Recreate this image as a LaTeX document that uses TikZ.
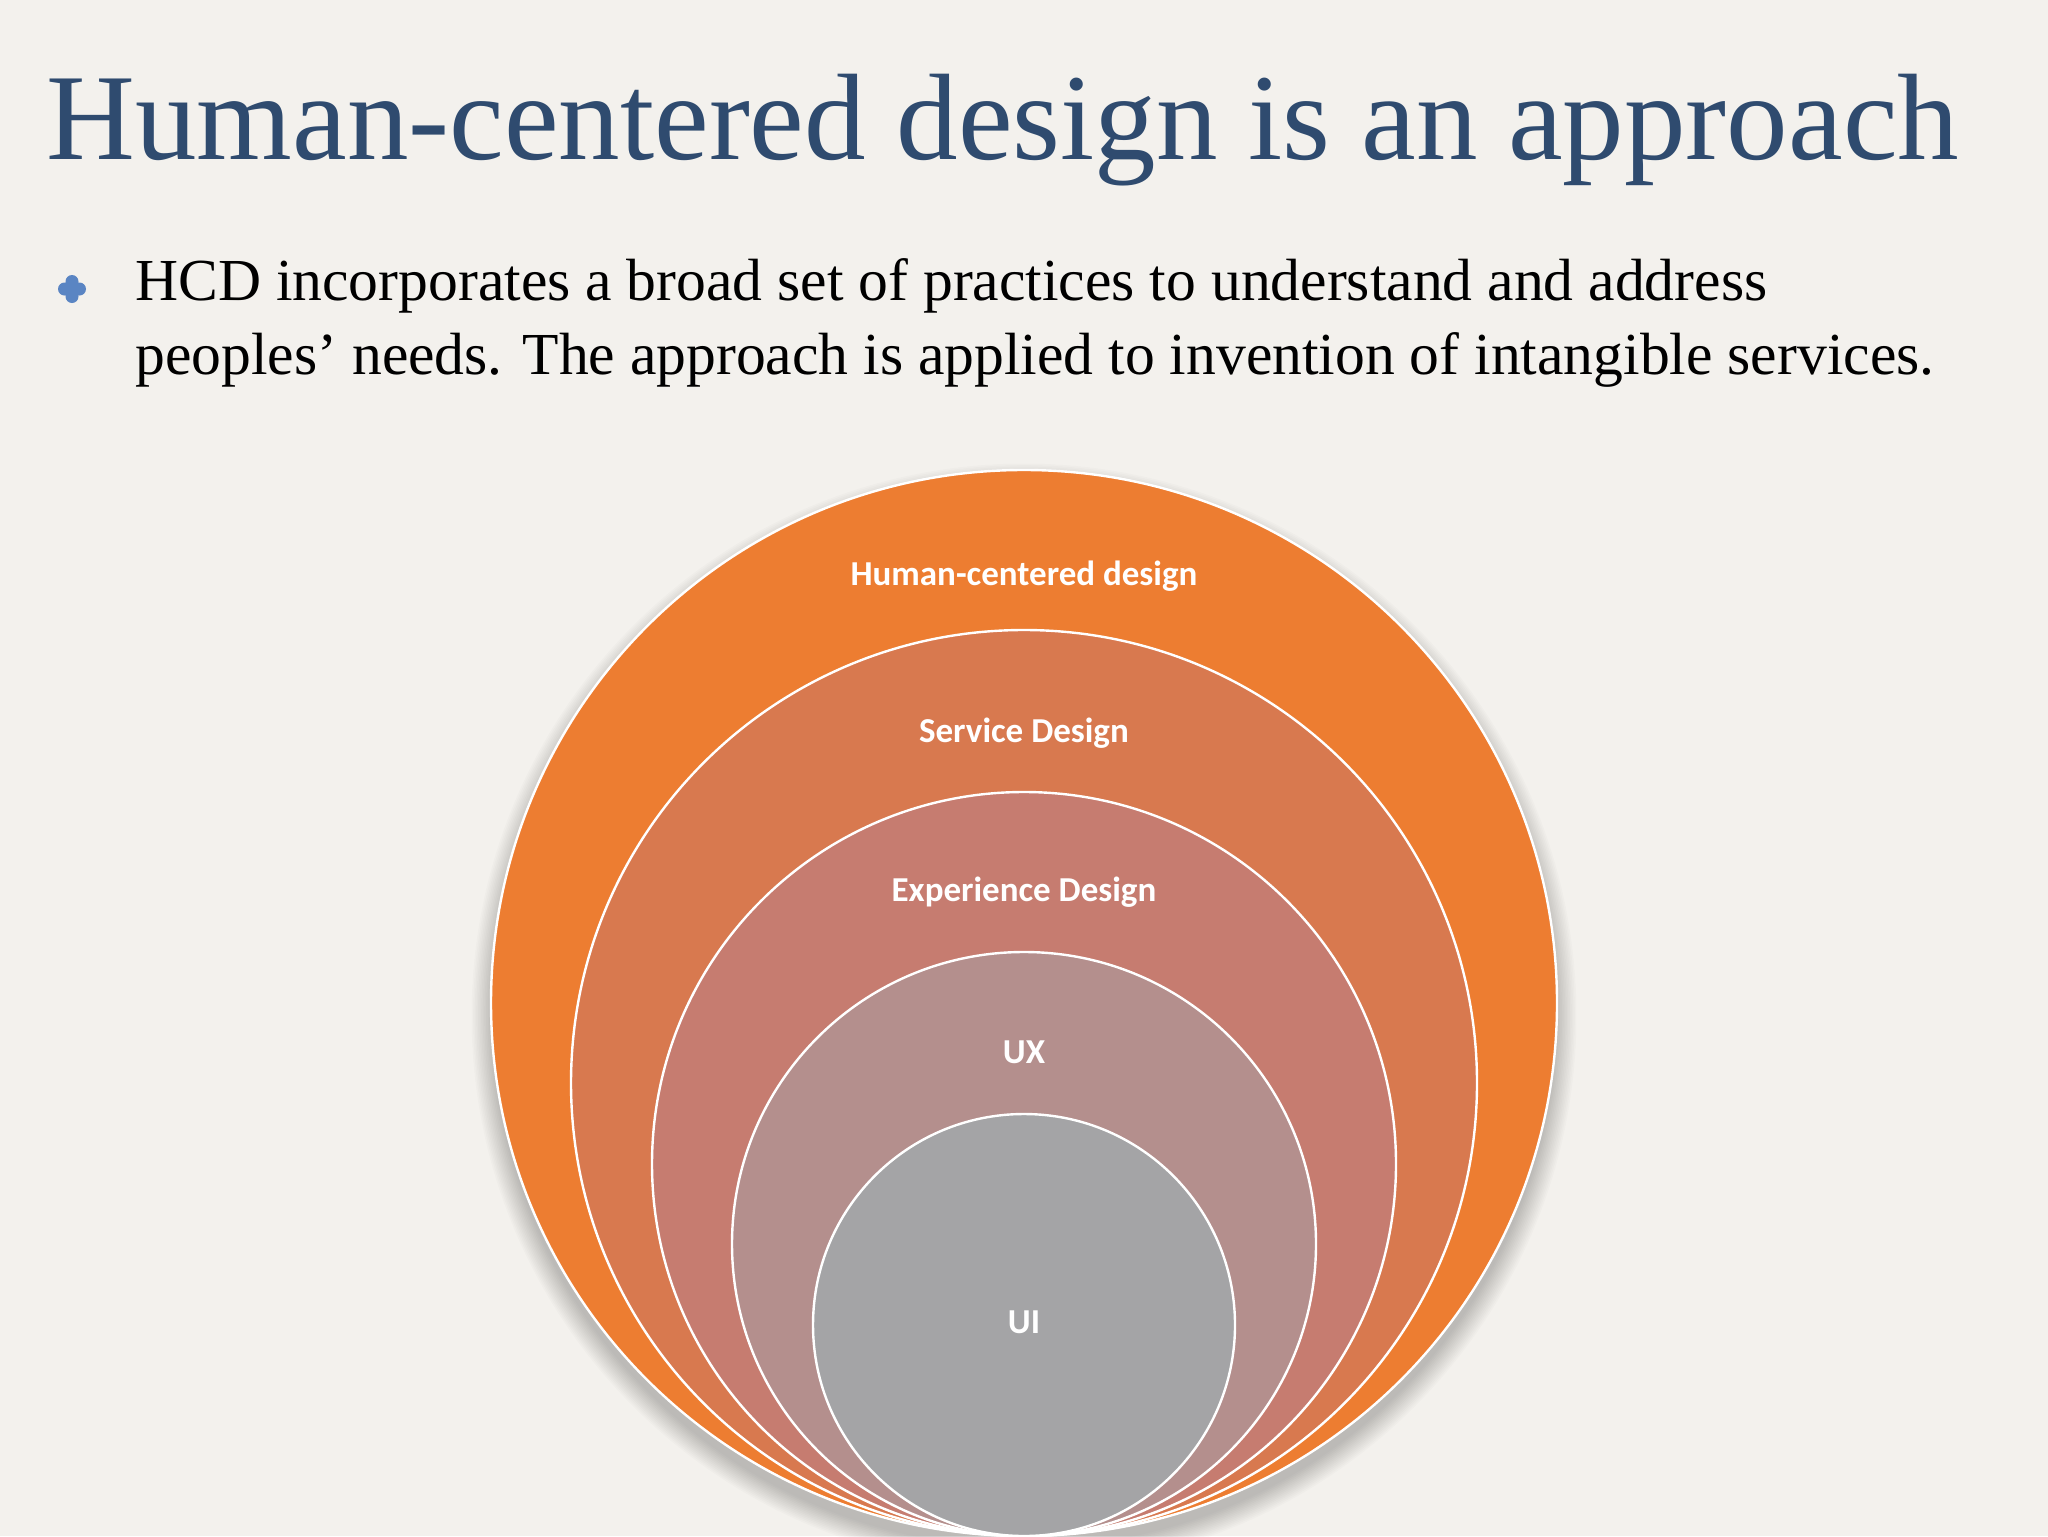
\documentclass[tikz,border=0pt]{standalone}
\usepackage{fontspec}
\setmainfont{Liberation Serif}
\newfontfamily\labelfont{Carlito}
\usetikzlibrary{positioning}

\definecolor{paper}{HTML}{F3F1ED}
\definecolor{titleblue}{HTML}{2F4B6F}
\definecolor{bulletblue}{HTML}{5A85C3}
\definecolor{hcdorange}{HTML}{ED7D31}
\definecolor{serviceorange}{HTML}{D8794F}
\definecolor{experiencerose}{HTML}{C67C70}
\definecolor{uxmauve}{HTML}{B48F8D}
\definecolor{uigray}{HTML}{A4A4A6}

\tikzset{
  ring/.style={circle, draw=white, line width=1.2pt, inner sep=0pt, outer sep=0pt},
  ringlabel/.style={text=white, font=\labelfont\bfseries\fontsize{17.5}{20}\selectfont, inner sep=0pt, anchor=base},
  bodytext/.style={font=\fontsize{29.8}{37}\selectfont, inner sep=0pt, anchor=base west},
}

\begin{document}
\begin{tikzpicture}[x=0.5pt,y=-0.5pt]
	\useasboundingbox (0,0) rectangle (2048,1536);
	\clip (0,0) rectangle (2048,1536);
	\fill[paper] (0,0) rectangle (2048,1536);
	
	%TITLE
	\node[titleblue, font=\fontsize{61.5}{70}\selectfont, inner sep=0pt, anchor=base west] (title) at (46,159) {Human-centered design is an approach};
	
	%BULLET
	\fill[bulletblue] (72,289) circle[radius=3]
		(72,281.5) circle[radius=6.5] (72,296.5) circle[radius=6.5]
		(64.5,289) circle[radius=6.5] (79.5,289) circle[radius=6.5];
	\node[bodytext] (line1) at (135,300) {HCD incorporates a broad set of practices to understand and address};
	\node[bodytext] (line2) at (135,374) {peoples' needs. The approach is applied to invention of intangible services.};
	
	%SHADOW
	\foreach \i in {1,...,14}
		\fill[black, opacity=0.016] (1024,1016) circle[radius=530+1.6*\i];
	
	%CIRCLES
	\node[ring, fill=hcdorange, minimum size=533pt] (hcd) at (1024,1003) {};
	\node[ring, fill=serviceorange, minimum size=453pt] (service) at (1024,1083) {};
	\node[ring, fill=experiencerose, minimum size=372pt] (experience) at (1024,1164) {};
	\node[ring, fill=uxmauve, minimum size=292pt] (ux) at (1024,1244) {};
	\node[ring, fill=uigray, minimum size=211pt] (ui) at (1024,1325) {};
	
	%LABELS
	\node[ringlabel] (hcdlabel) at ([yshift=-57.5pt]hcd.north) {Human-centered design};
	\node[ringlabel] (servicelabel) at ([yshift=-56pt]service.north) {Service Design};
	\node[ringlabel] (experiencelabel) at ([yshift=-54.5pt]experience.north) {Experience Design};
	\node[ringlabel] (uxlabel) at ([yshift=-55.5pt]ux.north) {UX};
	\node[ringlabel] (uilabel) at ([yshift=-4pt]ui.center) {UI};
\end{tikzpicture}
\end{document}
